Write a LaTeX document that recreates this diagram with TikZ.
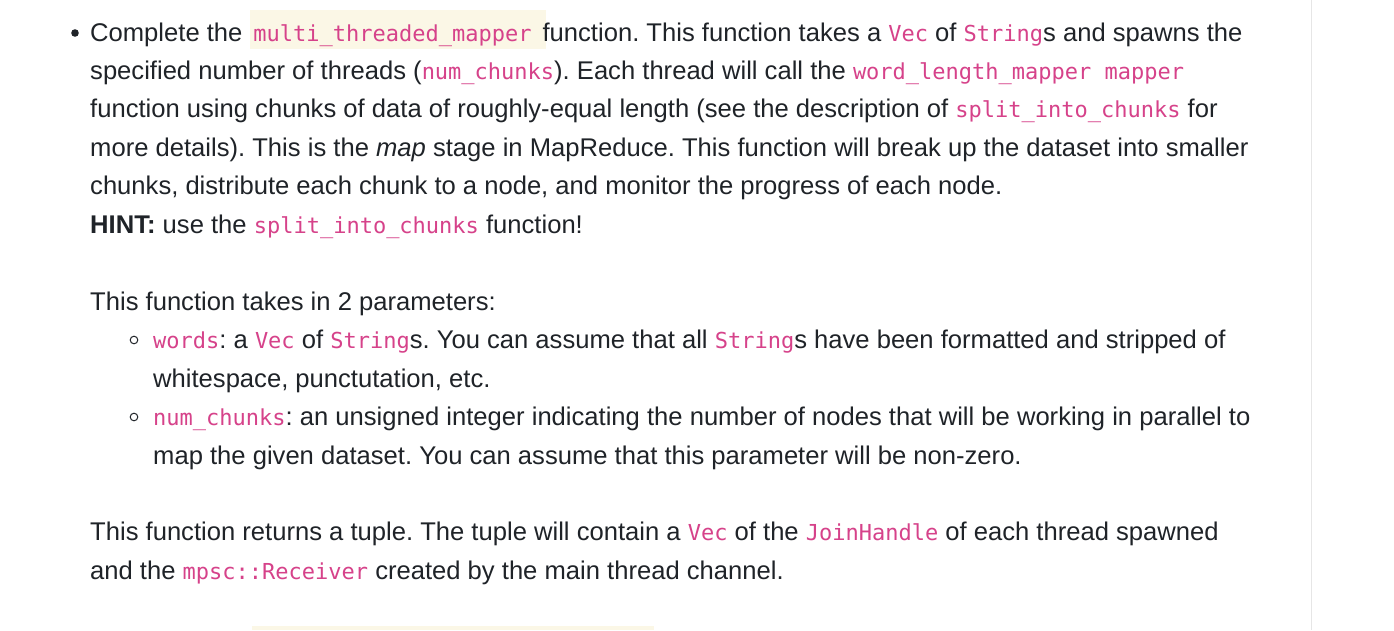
\documentclass[tikz,border=0pt]{standalone}
\usepackage{fontspec}
\setmainfont{Liberation Sans}
\newfontfamily\codefont{DejaVu Sans Mono}
\definecolor{txt}{HTML}{1F2328}
\definecolor{pink}{HTML}{D6428A}
\definecolor{hl}{HTML}{FBF7E6}
\definecolor{rule}{HTML}{E6E6E6}
\newcommand{\cd}[1]{{\codefont\fontsize{22}{22}\selectfont\color{pink}#1}}
\frenchspacing
\begin{document}
\begin{tikzpicture}[x=1pt,y=-1pt,
  ln/.style={anchor=base west,inner sep=0pt,text=txt,font=\fontsize{25.6}{30}\selectfont}]
\useasboundingbox (0,0) rectangle (1394,630);
\fill[white] (0,0) rectangle (1394,630);
\fill[hl] (250,10) rectangle (546,49);
\fill[hl] (252,626) rectangle (654,630);
\draw[rule,line width=1pt] (1311,0) -- (1311,630);
\fill[txt] (75,33) circle (3.8);
\draw[txt,line width=1pt] (134,340) circle (3.8);
\draw[txt,line width=1pt] (134,417) circle (3.8);
\node[ln] (l1) at (90,41) {Complete the\hspace{11pt}\cd{multi\_threaded\_mapper}\hspace{11pt}function. This function takes a \cd{Vec} of \cd{String}s and spawns the};
\node[ln] (l2) at (90,79) {specified number of threads (\cd{num\_chunks}). Each thread will call the \cd{word\_length\_mapper mapper}};
\node[ln] (l3) at (90,117) {function using chunks of data of roughly-equal length (see the description of \cd{split\_into\_chunks} for};
\node[ln] (l4) at (90,156) {more details). This is the \textit{map} stage in MapReduce. This function will break up the dataset into smaller};
\node[ln] (l5) at (90,194) {chunks, distribute each chunk to a node, and monitor the progress of each node.};
\node[ln] (l6) at (90,233) {\textbf{HINT:} use the \cd{split\_into\_chunks} function!};
\node[ln] (l7) at (90,310) {This function takes in 2 parameters:};
\node[ln] (l8) at (153,348) {\cd{words}: a \cd{Vec} of \cd{String}s. You can assume that all \cd{String}s have been formatted and stripped of};
\node[ln] (l9) at (153,387) {whitespace, punctutation, etc.};
\node[ln] (l10) at (153,425) {\cd{num\_chunks}: an unsigned integer indicating the number of nodes that will be working in parallel to};
\node[ln] (l11) at (153,464) {map the given dataset. You can assume that this parameter will be non-zero.};
\node[ln] (l12) at (90,540) {This function returns a tuple. The tuple will contain a \cd{Vec} of the \cd{JoinHandle} of each thread spawned};
\node[ln] (l13) at (90,579) {and the \cd{mpsc::Receiver} created by the main thread channel.};
\end{tikzpicture}
\end{document}
